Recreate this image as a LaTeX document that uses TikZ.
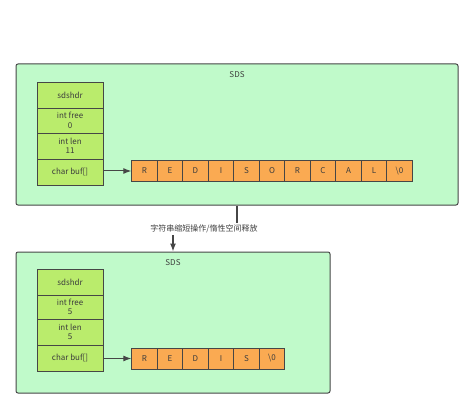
\documentclass[tikz,border=0pt]{standalone}
\usepackage{fontspec}
\setmainfont{Noto Sans CJK SC}
\usetikzlibrary{arrows.meta}
\definecolor{sdsgreen}{RGB}{192,250,202}
\definecolor{hdrgreen}{RGB}{186,236,108}
\definecolor{bufcell}{RGB}{250,170,82}
\definecolor{edgegray}{RGB}{70,70,70}
\definecolor{textgray}{RGB}{60,60,60}
\tikzset{
  sdsbox/.style={draw=edgegray, line width=1pt, fill=sdsgreen, rounded corners=2pt},
  hdrrow/.style={draw=edgegray, line width=0.9pt, fill=hdrgreen, minimum width=66pt, align=center, inner sep=0pt},
  bufbox/.style={draw=edgegray, line width=0.9pt, fill=bufcell, minimum width=25.5pt, minimum height=21pt, inner sep=0pt},
  ptr/.style={draw=edgegray, line width=1pt, -{Latex[length=8pt,width=6pt]}}
}
\begin{document}
\begin{tikzpicture}[x=1pt, y=-1pt, font=\fontsize{8}{9.5}\selectfont, text=textgray]
\useasboundingbox (0,0) rectangle (474,409);
% upper sds
\node[sdsbox, minimum width=442pt, minimum height=141pt] (sdsA) at (237,134.5) {};
\node (sdsAtitle) at (237,75) {SDS};
\node[hdrrow, minimum height=26pt] (hdrA) at (70,95) {sdshdr};
\node[hdrrow, minimum height=25pt] (freeA) at (70,120.5) {int free\\0};
\node[hdrrow, minimum height=26pt] (lenA) at (70,146) {int len\\11};
\node[hdrrow, minimum height=26pt] (bufA) at (70,172) {char buf[]};
\foreach \ch [count=\i from 0] in {R,E,D,I,S,O,R,C,A,L,{\textbackslash 0}}
  \node[bufbox] (cellA\i) at (144.5+25.5*\i,171) {\ch};
\draw[ptr] (bufA.east |- cellA0.west) -- (cellA0.west);
% lower sds
\node[sdsbox, minimum width=314pt, minimum height=141pt] (sdsB) at (173,322.5) {};
\node (sdsBtitle) at (173,263) {SDS};
\node[hdrrow, minimum height=26pt] (hdrB) at (70,282) {sdshdr};
\node[hdrrow, minimum height=24pt] (freeB) at (70,307) {int free\\5};
\node[hdrrow, minimum height=26pt] (lenB) at (70,332) {int len\\5};
\node[hdrrow, minimum height=26pt] (bufB) at (70,358) {char buf[]};
\foreach \ch [count=\i from 0] in {R,E,D,I,S,{\textbackslash 0}}
  \node[bufbox] (cellB\i) at (144.5+25.5*\i,358.5) {\ch};
\draw[ptr] (bufB.east |- cellB0.west) -- (cellB0.west);
% shrink step
\node[inner sep=1.5pt, font=\fontsize{8}{9}\selectfont] (shrink) at (204,229) {字符串缩短操作/惰性空间释放};
\draw[edgegray, line width=1.2pt] (sdsA.south) -- (shrink.north -| sdsA.south);
\draw[ptr, line width=1.2pt] (shrink.south -| sdsB.north) -- (sdsB.north);
\end{tikzpicture}
\end{document}
